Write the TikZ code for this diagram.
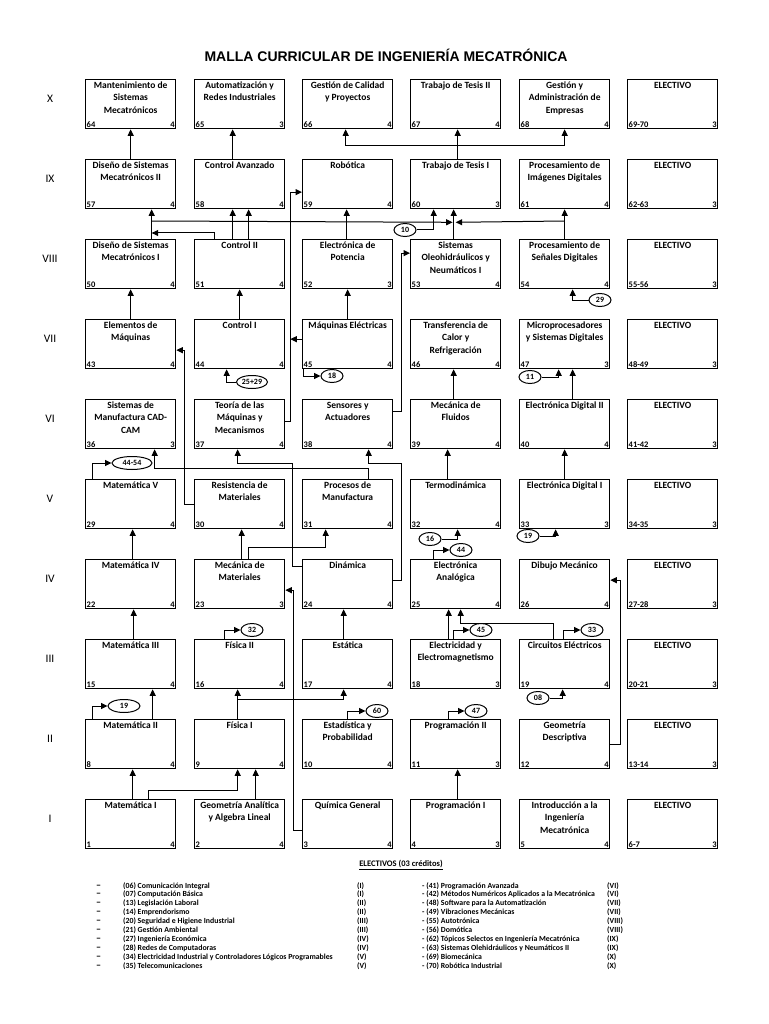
\documentclass[tikz,border=0pt]{standalone}
\usepackage{fontspec}
\setmainfont{Carlito}
\newfontfamily\headfont{Liberation Sans}
\usetikzlibrary{arrows.meta,shapes.geometric}

\begin{document}
\begin{tikzpicture}[x=1pt, y=-1pt,
		box/.style n args={3}{draw, line width=1.3pt, anchor=north west, minimum width=90, minimum height=49, inner sep=0pt,
			label={[ctitle]north:{#1}}, label={[cnum, anchor=south west]south west:#2}, label={[cnum, anchor=south east]south east:#3}},
		ctitle/.style={anchor=north, align=center, inner sep=2.8pt, font=\fontsize{9.5}{12.3}\selectfont\bfseries},
		cnum/.style={inner sep=1.5pt, font=\fontsize{8.5}{10}\selectfont\bfseries},
		ref/.style={draw, ellipse, line width=1pt, inner sep=0.5pt, minimum width=22, minimum height=13, font=\fontsize{8}{9}\selectfont\bfseries},
		link/.style={-{Triangle[length=6.5pt, width=6pt]}, line width=1pt},
		rowlbl/.style={font=\fontsize{11.5}{12}\selectfont},
		elec/.style={anchor=base west, inner sep=0pt, font=\fontsize{7.8}{8}\selectfont\bfseries}]
	\useasboundingbox (0,0) rectangle (768,1024);

	\node[font=\headfont\fontsize{14}{16}\selectfont\bfseries] (title) at (386,55) {MALLA CURRICULAR DE INGENIERÍA MECATRÓNICA};

	\node[rowlbl] (lX) at (50,99) {X};
	\node[rowlbl] (lIX) at (50,179) {IX};
	\node[rowlbl] (lVIII) at (50,259) {VIII};
	\node[rowlbl] (lVII) at (50,339) {VII};
	\node[rowlbl] (lVI) at (50,419) {VI};
	\node[rowlbl] (lV) at (50,499) {V};
	\node[rowlbl] (lIV) at (50,579) {IV};
	\node[rowlbl] (lIII) at (50,659) {III};
	\node[rowlbl] (lII) at (50,739) {II};
	\node[rowlbl] (lI) at (50,819) {I};

	\node[box={Mantenimiento de\\Sistemas\\Mecatrónicos}{64}{4}] (c64) at (85,79) {};
	\node[box={Automatización y\\Redes Industriales}{65}{3}] (c65) at (194,79) {};
	\node[box={Gestión de Calidad\\y Proyectos}{66}{4}] (c66) at (302,79) {};
	\node[box={Trabajo de Tesis II}{67}{4}] (c67) at (410,79) {};
	\node[box={Gestión y\\Administración de\\Empresas}{68}{4}] (c68) at (519,79) {};
	\node[box={ELECTIVO}{69-70}{3}] (e10) at (627,79) {};

	\node[box={Diseño de Sistemas\\Mecatrónicos II}{57}{4}] (c57) at (85,159) {};
	\node[box={Control Avanzado}{58}{4}] (c58) at (194,159) {};
	\node[box={Robótica}{59}{4}] (c59) at (302,159) {};
	\node[box={Trabajo de Tesis I}{60}{3}] (c60) at (410,159) {};
	\node[box={Procesamiento de\\Imágenes Digitales}{61}{4}] (c61) at (519,159) {};
	\node[box={ELECTIVO}{62-63}{3}] (e9) at (627,159) {};

	\node[box={Diseño de Sistemas\\Mecatrónicos I}{50}{4}] (c50) at (85,239) {};
	\node[box={Control II}{51}{4}] (c51) at (194,239) {};
	\node[box={Electrónica de\\Potencia}{52}{3}] (c52) at (302,239) {};
	\node[box={Sistemas\\Oleohidráulicos y\\Neumáticos I}{53}{4}] (c53) at (410,239) {};
	\node[box={Procesamiento de\\Señales Digitales}{54}{4}] (c54) at (519,239) {};
	\node[box={ELECTIVO}{55-56}{3}] (e8) at (627,239) {};

	\node[box={Elementos de\\Máquinas}{43}{4}] (c43) at (85,319) {};
	\node[box={Control I}{44}{4}] (c44) at (194,319) {};
	\node[box={Máquinas Eléctricas}{45}{4}] (c45) at (302,319) {};
	\node[box={Transferencia de\\Calor y\\Refrigeración}{46}{4}] (c46) at (410,319) {};
	\node[box={Microprocesadores\\y Sistemas Digitales}{47}{3}] (c47) at (519,319) {};
	\node[box={ELECTIVO}{48-49}{3}] (e7) at (627,319) {};

	\node[box={Sistemas de\\Manufactura CAD-\\CAM}{36}{3}] (c36) at (85,399) {};
	\node[box={Teoría de las\\Máquinas y\\Mecanismos}{37}{4}] (c37) at (194,399) {};
	\node[box={Sensores y\\Actuadores}{38}{4}] (c38) at (302,399) {};
	\node[box={Mecánica de\\Fluidos}{39}{4}] (c39) at (410,399) {};
	\node[box={Electrónica Digital II}{40}{4}] (c40) at (519,399) {};
	\node[box={ELECTIVO}{41-42}{3}] (e6) at (627,399) {};

	\node[box={Matemática V}{29}{4}] (c29) at (85,479) {};
	\node[box={Resistencia de\\Materiales}{30}{4}] (c30) at (194,479) {};
	\node[box={Procesos de\\Manufactura}{31}{4}] (c31) at (302,479) {};
	\node[box={Termodinámica}{32}{4}] (c32) at (410,479) {};
	\node[box={Electrónica Digital I}{33}{3}] (c33) at (519,479) {};
	\node[box={ELECTIVO}{34-35}{3}] (e5) at (627,479) {};

	\node[box={Matemática IV}{22}{4}] (c22) at (85,559) {};
	\node[box={Mecánica de\\Materiales}{23}{3}] (c23) at (194,559) {};
	\node[box={Dinámica}{24}{4}] (c24) at (302,559) {};
	\node[box={Electrónica\\Analógica}{25}{4}] (c25) at (410,559) {};
	\node[box={Dibujo Mecánico}{26}{4}] (c26) at (519,559) {};
	\node[box={ELECTIVO}{27-28}{3}] (e4) at (627,559) {};

	\node[box={Matemática III}{15}{4}] (c15) at (85,639) {};
	\node[box={Física II}{16}{4}] (c16) at (194,639) {};
	\node[box={Estática}{17}{4}] (c17) at (302,639) {};
	\node[box={Electricidad y\\Electromagnetismo}{18}{3}] (c18) at (410,639) {};
	\node[box={Circuitos Eléctricos}{19}{4}] (c19) at (519,639) {};
	\node[box={ELECTIVO}{20-21}{3}] (e3) at (627,639) {};

	\node[box={Matemática II}{8}{4}] (c8) at (85,719) {};
	\node[box={Física I}{9}{4}] (c9) at (194,719) {};
	\node[box={Estadística y\\Probabilidad}{10}{4}] (c10) at (302,719) {};
	\node[box={Programación II}{11}{3}] (c11) at (410,719) {};
	\node[box={Geometría\\Descriptiva}{12}{4}] (c12) at (519,719) {};
	\node[box={ELECTIVO}{13-14}{3}] (e2) at (627,719) {};

	\node[box={Matemática I}{1}{4}] (c1) at (85,799) {};
	\node[box={Geometría Analítica\\y Algebra Lineal}{2}{4}] (c2) at (194,799) {};
	\node[box={Química General}{3}{4}] (c3) at (302,799) {};
	\node[box={Programación I}{4}{3}] (c4) at (410,799) {};
	\node[box={Introducción a la\\Ingeniería\\Mecatrónica}{5}{4}] (c5) at (519,799) {};
	\node[box={ELECTIVO}{6-7}{3}] (e1) at (627,799) {};

	\node[ref] (r10) at (405,230) {10};
	\node[ref, minimum width=31] (r2529) at (252,382) {25+29};
	\node[ref] (r18) at (332,376) {18};
	\node[ref] (r29) at (600,300) {29};
	\node[ref] (r11) at (530,377) {11};
	\node[ref, minimum width=40] (r4454) at (132,463) {44-54};
	\node[ref] (r16) at (430,539) {16};
	\node[ref] (r19b) at (528,536) {19};
	\node[ref] (r44) at (461,550) {44};
	\node[ref] (r32) at (252,630) {32};
	\node[ref] (r45) at (481,630) {45};
	\node[ref] (r33) at (592,630) {33};
	\node[ref, minimum width=32] (r19) at (124,706) {19};
	\node[ref] (r60) at (377,711) {60};
	\node[ref] (r47) at (476,711) {47};
	\node[ref] (r08) at (538,698) {08};

	\draw[link] (c57.north) -- (c64.south);
	\draw[link] ([xshift=-7]c58.north) -- ([xshift=-7]c65.south);
	\draw[link] ([xshift=2]c60.north) -- ([xshift=2]c67.south);
	\coordinate (j67) at ([xshift=2, yshift=-16]c67.south);
	\draw[link] (j67) -| ([xshift=-2]c66.south);
	\draw[link] (j67) -| (c68.south);

	\draw[link] ([xshift=21]c50.north) -- ([xshift=21]c57.south);
	\draw[link] ([xshift=-25]c51.north) |- ([xshift=21, yshift=6]c50.north);
	\draw[link] ([xshift=-7]c51.north) -- ([xshift=-7]c58.south);
	\draw[link] ([xshift=9]c51.north) -- ([xshift=9]c58.south);
	\draw[link] ([xshift=21, yshift=18]c50.north) -- ([xshift=-3, yshift=-13]c60.south);
	\draw[link] (c54.north) -- (c61.south);
	\draw[link] ([yshift=18]c54.north) -- ([yshift=-13]c60.south);
	\draw[link] ([xshift=-1]c52.north) -- ([xshift=-1]c59.south);
	\draw[link] ([xshift=-2]c53.north) -- ([xshift=-2]c60.south);
	\draw[link] (r10.east) -| ([xshift=-22]c60.south);

	\draw[link] (c43.north) -- (c50.south);
	\draw[link] (c44.north) -- (c51.south);
	\draw[link] (c45.north) -- (c52.south);
	\draw[link] ([yshift=3]c37.east) -- ++(5,0) |- ([yshift=-8]c59.west);
	\draw[link] ([yshift=5]c45.west) -- ([xshift=5, yshift=5]c44.east);
	\draw[link] ([yshift=13]c38.east) -- ++(8,0) |- ([yshift=11]c53.west);
	\draw[link] (r2529.west) -| ([xshift=-13]c44.south);
	\draw[link] ([xshift=1]c45.south west) |- (r18.west);
	\draw[link] (r29.west) -| ([xshift=8]c54.south);

	\draw[link] ([xshift=-2]c39.north) -- ([xshift=-2]c46.south);
	\draw[link] ([xshift=8]c40.north) -- ([xshift=8]c47.south);
	\draw[link] (r11.east) -| ([xshift=-6]c47.south);
	\draw[link] (c30.west) -- ++(-10,0) |- ([yshift=-6]c43.east);

	\draw[link] ([xshift=-38]c29.north) |- (r4454.west);
	\draw[link] ([xshift=21]c31.north) -- ++(0,-11) -| ([xshift=24]c36.south);
	\draw[link] ([yshift=18]c24.west) -- ++(-10,0) |- ([xshift=-2, yshift=-14]c37.south) -- ([xshift=-2]c37.south);
	\draw[link] ([yshift=4]c24.east) -- ++(8,0) |- ([xshift=21, yshift=-14]c38.south) -- ([xshift=21]c38.south);
	\draw[link] ([xshift=-8]c32.north) -- ([xshift=-8]c39.south);
	\draw[link] (c33.north) -- (c40.south);
	\draw[link] (r16.east) -| ([xshift=2]c32.south);
	\draw[link] (r19b.east) -| ([xshift=-9]c33.south);

	\draw[link] ([xshift=2]c22.north) -- ([xshift=2]c29.south);
	\draw[link] ([xshift=2]c23.north) -- ([xshift=2]c30.south);
	\draw[link] ([xshift=9]c23.north) -- ++(0,-12) -| ([xshift=-22]c31.south);
	\draw[link] ([xshift=-22]c25.north) |- (r44.west);
	\draw[link] ([yshift=-6]c3.west) -- ++(-9,0) |- ([yshift=-6]c23.east);
	\draw[link] (c12.east) -- ++(10,0) |- ([yshift=4]c26.east);

	\draw[link] ([xshift=3]c15.north) -- ([xshift=3]c22.south);
	\draw[link] ([xshift=-15]c16.north) |- (r32.west);
	\draw[link] ([xshift=-4]c17.north) -- ([xshift=-4]c24.south);
	\draw[link] ([xshift=-7]c18.north) -- ([xshift=-7]c25.south);
	\draw[link] ([xshift=-11]c19.north) -- ++(0,-16) -| ([xshift=5]c25.south);
	\draw[link] ([xshift=-2]c18.north) |- (r45.west);
	\draw[link] ([xshift=-1]c19.north) |- (r33.west);

	\draw[link] ([xshift=22]c8.north) -- ([xshift=22]c15.south);
	\draw[link] ([xshift=-38]c8.north) |- (r19.west);
	\draw[link] ([xshift=-2]c9.north) -- ([xshift=-2]c16.south);
	\draw[link] ([xshift=-2]c9.north) -- ++(0,-20) -| ([xshift=-4]c17.south);
	\draw[link] (c10.north) |- (r60.west);
	\draw[link] ([xshift=-7]c11.north) |- (r47.west);
	\draw[link] (r08.east) -| ([xshift=-2]c19.south);

	\draw[link] ([xshift=2]c1.north) -- ([xshift=2]c8.south);
	\draw[link] ([xshift=18]c1.north) -- ++(0,-9) -| ([xshift=-2]c9.south);
	\draw[link] ([xshift=16]c2.north) -- ([xshift=16]c9.south);
	\draw[link] ([xshift=2]c4.north) -- ([xshift=2]c11.south);

	\node[font=\fontsize{8.5}{9}\selectfont\bfseries] (elhead) at (401,865) {\underline{ELECTIVOS (03 créditos)}};
	\foreach \t/\s [count=\i] in {(06) Comunicación Integral/(I), (07) Computación Básica/(I), (13) Legislación Laboral/(II), (14) Emprendorismo/(II), (20) Seguridad e Higiene Industrial/(III), (21) Gestión Ambiental/(III), (27) Ingeniería Económica/(IV), (28) Redes de Computadoras/(IV), (34) Electricidad Industrial y Controladores Lógicos Programables/(V), (35) Telecomunicaciones/(V)} {
		\node[elec, font=\fontsize{10}{10}\selectfont\bfseries] (ld\i) at (96, {879.1+8.9*\i}) {--};
		\node[elec] (la\i) at (123, {879.1+8.9*\i}) {\t};
		\node[elec] (ls\i) at (357, {879.1+8.9*\i}) {\s};
	}
	\foreach \t/\s [count=\i] in {(41) Programación Avanzada/(VI), (42) Métodos Numéricos Aplicados a la Mecatrónica/(VI), (48) Software para la Automatización/(VII), (49) Vibraciones Mecánicas/(VII), (55) Autotrónica/(VIII), (56) Domótica/(VIII), (62) Tópicos Selectos en Ingeniería Mecatrónica/(IX), (63) Sistemas Olehidráulicos y Neumáticos II/(IX), (69) Biomecánica/(X), (70) Robótica Industrial/(X)} {
		\node[elec] (rb\i) at (422, {879.1+8.9*\i}) {- \t};
		\node[elec] (rs\i) at (607, {879.1+8.9*\i}) {\s};
	}
\end{tikzpicture}
\end{document}
